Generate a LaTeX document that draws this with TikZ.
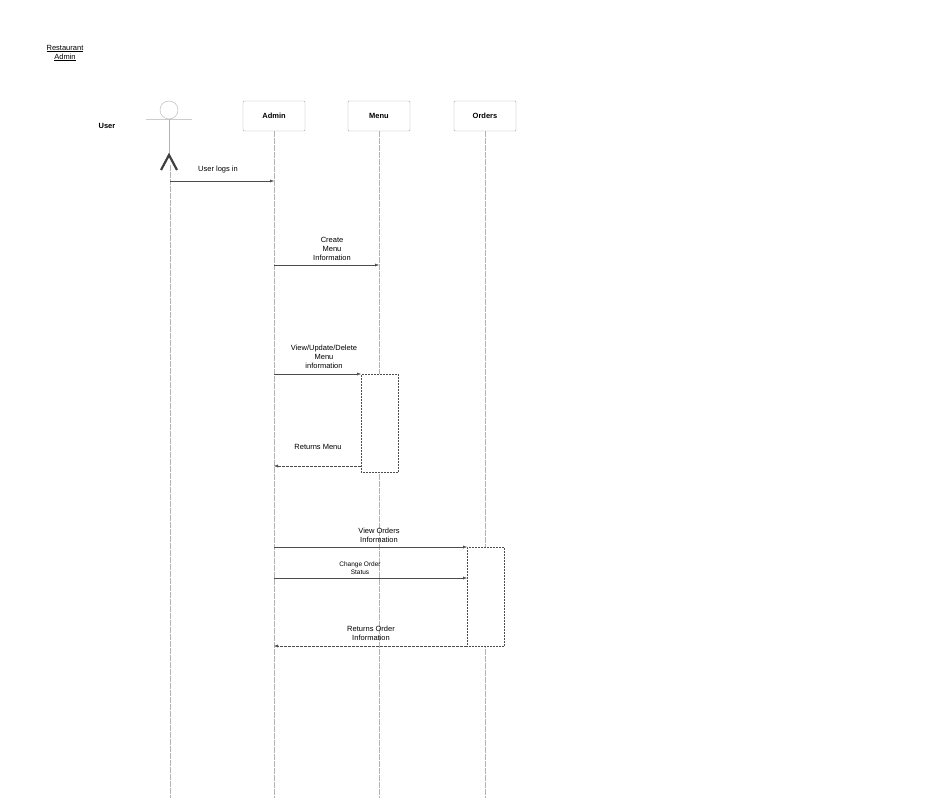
\documentclass[tikz,border=0pt]{standalone}
\usepackage{fontspec}
\setmainfont{Liberation Sans}
\usetikzlibrary{arrows.meta}
\begin{document}
\begin{tikzpicture}[x=1pt,y=-1pt,
  obj/.style={draw=gray!70,rounded corners=1pt,minimum width=62pt,minimum height=30pt,font=\fontsize{7.5}{9}\selectfont\bfseries},
  life/.style={draw=gray!60,dash pattern=on 6pt off 1pt,line width=0.5pt},
  msg/.style={draw=black!70,line width=0.4pt,-{Latex[length=4pt,width=3pt]}},
  ret/.style={msg,dash pattern=on 3pt off 1pt},
  act/.style={draw=black!70,densely dotted,fill=white,line width=0.5pt},
  lbl/.style={font=\fontsize{7.5}{9}\selectfont,align=center,inner sep=0pt}]
\path[use as bounding box] (0,0) rectangle (936,798);
\node[lbl,align=center] (title) at (65,53) {\underline{Restaurant}\\\underline{Admin}};
\node[lbl,font=\fontsize{7.5}{9}\selectfont\bfseries] (ulabel) at (107,126) {User};
% actor
\node[draw=gray!60,circle,minimum size=18pt,inner sep=0pt] (head) at (169,110) {};
\draw[gray!40,line width=0.8pt] (146,119) -- (192,119);
\draw[gray!60] (head.south) -- (169,158);
\draw[black!75,line width=2.2pt] (161,170) -- (169,155) -- (177,170);
\coordinate (u0) at (170,165); \coordinate (u1) at (170,798);
\draw[life] (u0) -- (u1);
% objects
\node[obj] (admin) at (274,116) {Admin};
\node[obj] (menu) at (379,116) {Menu};
\node[obj] (orders) at (485,116) {Orders};
\coordinate (a1) at (274,798); \coordinate (m1) at (379,798); \coordinate (o1) at (485,798);
\draw[life] (admin.south) -- (a1);
\draw[life] (menu.south) -- (m1);
\draw[life] (orders.south) -- (o1);
% activations
\node[act,minimum width=37pt,minimum height=98pt,inner sep=0pt,anchor=north west] (mact) at (361,374) {};
\node[act,minimum width=37pt,minimum height=99pt,inner sep=0pt,anchor=north west] (oact) at (467,547) {};
% messages
\coordinate (s1) at (170,181); \coordinate (e1) at (274,181);
\draw[msg] (s1) -- (e1);
\node[lbl] (l1) at (218,170) {User logs in};
\coordinate (s2) at (274,265); \coordinate (e2) at (379,265);
\draw[msg] (s2) -- (e2);
\node[lbl] (l2) at (332,249) {Create\\Menu\\Information};
\coordinate (s3) at (274,374);
\draw[msg] (s3) -- (mact.north west);
\node[lbl] (l3) at (324,357) {View/Update/Delete\\Menu\\information};
\coordinate (e4) at (274,466); \coordinate (s4) at (361,466);
\draw[ret] (s4) -- (e4);
\node[lbl] (l4) at (318,447) {Returns Menu};
\coordinate (s5) at (274,547);
\draw[msg] (s5) -- (oact.north west);
\node[lbl] (l5) at (379,535) {View Orders\\Information};
\coordinate (s6) at (274,578); \coordinate (e6) at (467,578);
\draw[msg] (s6) -- (e6);
\node[lbl,font=\fontsize{6.5}{8}\selectfont] (l6) at (360,568) {Change Order\\Status};
\coordinate (s7) at (467,646); \coordinate (e7) at (274,646);
\draw[ret] (s7) -- (e7);
\node[lbl] (l7) at (371,633) {Returns Order\\Information};
\end{tikzpicture}
\end{document}
